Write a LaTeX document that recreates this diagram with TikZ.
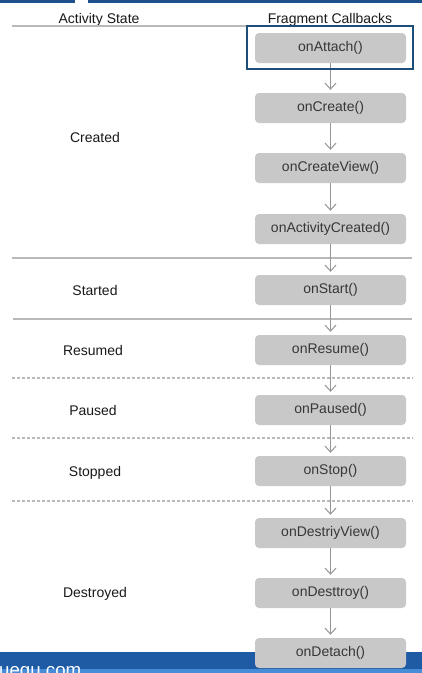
\documentclass[tikz,border=0pt]{standalone}
\usepackage{fontspec}
\setmainfont{Liberation Sans}
\usetikzlibrary{arrows.meta}

\definecolor{boxgray}{RGB}{200,200,200}
\definecolor{boxtext}{RGB}{55,55,55}
\definecolor{labeltext}{RGB}{25,25,25}
\definecolor{arrowgray}{RGB}{150,150,150}
\definecolor{sepgray}{RGB}{185,185,185}
\definecolor{hlblue}{RGB}{28,78,122}
\definecolor{barblue}{RGB}{30,80,140}
\definecolor{bandblue}{RGB}{31,91,165}
\definecolor{bandlight}{RGB}{70,140,215}

\begin{document}
\begin{tikzpicture}[x=1pt, y=-1pt,
    cb/.style={rectangle, rounded corners=4pt, fill=boxgray, minimum width=151pt,
        minimum height=30pt, inner sep=0pt, text=boxtext,
        font=\fontsize{14}{16}\selectfont, text height=10pt, text depth=3pt},
    state/.style={text=labeltext, font=\fontsize{14}{16}\selectfont, anchor=base},
    flow/.style={draw=arrowgray, line width=1pt,
        -{Straight Barb[length=6pt,width=11pt]}, shorten >=3pt},
    solidsep/.style={draw=sepgray, line width=1.2pt},
    dashsep/.style={solidsep, dash pattern=on 3pt off 2pt}]
            \useasboundingbox (0,0) rectangle (422,673);
            % top and bottom bars of the slide
            \fill[barblue] (0,0) rectangle (75,3);
            \fill[barblue] (88,0) rectangle (422,3);
            \fill[bandblue] (0,652) rectangle (422,673);
            \fill[bandlight] (0,669) rectangle (422,673);
            \begin{scope}
                \clip (0,652) rectangle (422,673);
                \node[anchor=base west, inner sep=0pt, text=white,
                    font=\fontsize{18.7}{20}\selectfont] (site) at (-1,676) {uegu.com};
            \end{scope}
            % headers
            \node[state] (hstate) at (99,23) {Activity State};
            \node[state] (hcall) at (330,23) {Fragment Callbacks};
            \draw[solidsep] (12,26) -- (413,26);
            % separators
            \draw[solidsep] (12,258) -- (412,258);
            \draw[solidsep] (13,319) -- (412,319);
            \draw[dashsep] (12,378) -- (413,378);
            \draw[dashsep] (12,438) -- (413,438);
            \draw[dashsep] (12,501) -- (413,501);
            % callbacks
            \node[cb] (attach) at (330.5,48) {onAttach()};
            \node[cb] (create) at (330.5,108) {onCreate()};
            \node[cb] (createview) at (330.5,168) {onCreateView()};
            \node[cb] (actcreated) at (330.5,229) {onActivityCreated()};
            \node[cb] (start) at (330.5,290) {onStart()};
            \node[cb] (resume) at (330.5,350) {onResume()};
            \node[cb] (pause) at (330.5,410) {onPaused()};
            \node[cb] (stop) at (330.5,471) {onStop()};
            \node[cb] (destroyview) at (330.5,533) {onDestriyView()};
            \node[cb] (destroy) at (330.5,593) {onDesttroy()};
            \node[cb] (detach) at (330.5,653) {onDetach()};
            \foreach \a/\b in {attach/create, create/createview, createview/actcreated,
                actcreated/start, start/resume, resume/pause, pause/stop,
                stop/destroyview, destroyview/destroy, destroy/detach}
                \draw[flow] (\a) -- (\b);
            \draw[hlblue, line width=2pt] ([xshift=-8pt, yshift=7pt]attach.north west)
                rectangle ([xshift=7pt, yshift=-6pt]attach.south east);
            % activity states
            \node[state] (created) at (95,142) {Created};
            \node[state] (started) at (95,295) {Started};
            \node[state] (resumed) at (93,355) {Resumed};
            \node[state] (paused) at (93,415) {Paused};
            \node[state] (stopped) at (95,476) {Stopped};
            \node[state] (destroyed) at (95,597) {Destroyed};
        \end{tikzpicture}
\end{document}
